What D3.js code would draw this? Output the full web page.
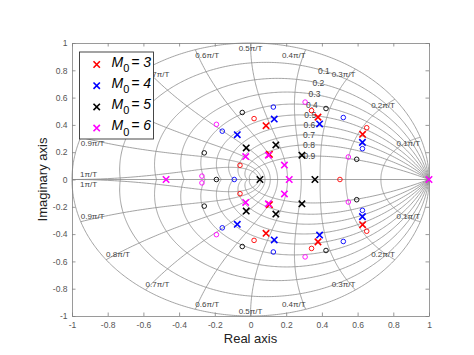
<!DOCTYPE html>
<html><head><meta charset="utf-8">
<script src="https://cdn.jsdelivr.net/npm/d3@7"></script>
<style>body{margin:0;background:#fff}svg{display:block}</style>
</head><body><svg id="c" width="474" height="355"></svg>
<script>
// ---- data ----
const xTicks = [-1, -0.8, -0.6, -0.4, -0.2, 0, 0.2, 0.4, 0.6, 0.8, 1];
const yTicks = [-1, -0.8, -0.6, -0.4, -0.2, 0, 0.2, 0.4, 0.6, 0.8, 1];
const xTickLabels = ["-1", "-0.8", "-0.6", "-0.4", "-0.2", "0", "0.2", "0.4", "0.6", "0.8", "1"];
const yTickLabels = ["-1", "-0.8", "-0.6", "-0.4", "-0.2", "0", "0.2", "0.4", "0.6", "0.8", "1"];
const zetaValues = [0, 0.1, 0.2, 0.3, 0.4, 0.5, 0.6, 0.7, 0.8, 0.9];
const zetaLabels = ["", "0.1", "0.2", "0.3", "0.4", "0.5", "0.6", "0.7", "0.8", "0.9"];
const wnValues = [0.1, 0.2, 0.3, 0.4, 0.5, 0.6, 0.7, 0.8, 0.9, 1];   // multiples of pi/T
const wnLabels = ["0.1\u03C0/T", "0.2\u03C0/T", "0.3\u03C0/T", "0.4\u03C0/T", "0.5\u03C0/T", "0.6\u03C0/T", "0.7\u03C0/T", "0.8\u03C0/T", "0.9\u03C0/T", "1\u03C0/T"];
const seriesM0 = ["3", "4", "5", "6"];

// poles (x) and zeros (o): [real, imag]
const poles3 = [[0.087, 0.394], [0.087, -0.394], [0.106, 0.184], [0.106, -0.184], [0.378, 0.457], [0.378, -0.457], [0.628, 0.331], [0.628, -0.331]];
const zeros3 = [[0.020, 0.446], [0.020, -0.446], [-0.059, 0.104], [-0.059, -0.104], [0.342, 0.505], [0.342, -0.505], [0.651, 0.379], [0.651, -0.379], [0.501, 0]];
const poles4 = [[-0.074, 0.328], [-0.074, -0.328], [0.133, 0.443], [0.133, -0.443], [0.387, 0.407], [0.387, -0.407], [0.627, 0.272], [0.627, -0.272]];
const zeros4 = [[-0.158, 0.354], [-0.158, -0.354], [0.128, 0.531], [0.128, -0.531], [0.520, 0.454], [0.520, -0.454], [0.627, 0.226], [0.627, -0.226], [-0.091, 0]];
const poles5 = [[-0.024, 0.231], [-0.024, -0.231], [0.142, 0.253], [0.142, -0.253], [0.288, 0.178], [0.288, -0.178], [0.053, 0], [0.361, 0]];
const zeros5 = [[-0.046, 0.491], [-0.046, -0.491], [-0.259, 0.195], [-0.259, -0.195], [0.423, 0.520], [0.423, -0.520], [0.595, 0.148], [0.595, -0.148], [-0.191, 0]];
const poles6 = [[-0.027, 0.168], [-0.027, -0.168], [0.100, 0.178], [0.100, -0.178], [0.190, 0.106], [0.190, -0.106], [0.217, 0], [-0.473, 0], [1.0, 0]];
const zeros6 = [[-0.191, 0.404], [-0.191, -0.404], [-0.272, 0.025], [-0.272, -0.025], [0.306, 0.567], [0.306, -0.567], [0.548, 0.165], [0.548, -0.165]];

const seriesPoles = [poles3, poles4, poles5, poles6];
const seriesZeros = [zeros3, zeros4, zeros5, zeros6];
const seriesColors = ["#ff0000", "#0000ff", "#000000", "#ff00ff"];

// ---- layout ----
const svg = d3.select("#c");
const L = 72, R = 429, T = 43, B = 316;
const x = d3.scaleLinear().domain([-1, 1]).range([L, R]);
const y = d3.scaleLinear().domain([-1, 1]).range([B, T]);
const font = "'Liberation Sans', Arial, Helvetica, sans-serif";
const gridColor = "#8c8c8c";
const labelColor = "#444";

const line = d3.line().x(d => x(d[0])).y(d => y(d[1]));
const gGrid = svg.append("g").attr("fill", "none").attr("stroke", gridColor).attr("stroke-width", 0.8);

// real axis
gGrid.append("path").attr("d", line([[-1, 0], [1, 0]]));

// constant damping spirals
zetaValues.forEach(z => {
  const m = z / Math.sqrt(1 - z * z);
  const up = d3.range(0, 301).map(i => {
    const th = Math.PI * i / 300, r = Math.exp(-m * th);
    return [r * Math.cos(th), r * Math.sin(th)];
  });
  gGrid.append("path").attr("d", line(up));
  gGrid.append("path").attr("d", line(up.map(p => [p[0], -p[1]])));
});

// constant natural frequency curves
wnValues.forEach(w => {
  const W = w * Math.PI;
  const up = d3.range(0, 201).map(i => {
    const t = (Math.PI / 2) * i / 200, r = Math.exp(-W * Math.sin(t)), a = W * Math.cos(t);
    return [r * Math.cos(a), r * Math.sin(a)];
  });
  gGrid.append("path").attr("d", line(up));
  gGrid.append("path").attr("d", line(up.map(p => [p[0], -p[1]])));
});

// zeta labels (upper half)
const gLab = svg.append("g").attr("font-family", font).attr("fill", labelColor);
const wLab = 0.35 * Math.PI;
zetaValues.forEach((z, i) => {
  if (!zetaLabels[i]) return;
  const r = Math.exp(-wLab * z), a = wLab * Math.sqrt(1 - z * z);
  gLab.append("text").attr("x", x(r * Math.cos(a))).attr("y", y(r * Math.sin(a)) + 3)
    .attr("text-anchor", "middle").attr("font-size", 8.5).text(zetaLabels[i]);
});

// wn labels
wnValues.forEach((w, i) => {
  const a = w * Math.PI, cx = Math.cos(a), sy = Math.sin(a);
  let anchor = w < 0.5 ? "end" : (w > 0.5 ? "start" : "middle");
  if (w === 1) {
    gLab.append("text").attr("x", x(-1) + 8).attr("y", y(0) - 2.5).attr("font-size", 8).text(wnLabels[i]);
    gLab.append("text").attr("x", x(-1) + 8).attr("y", y(0) + 7.8).attr("font-size", 8).text(wnLabels[i]);
    return;
  }
  gLab.append("text").attr("x", x(cx)).attr("y", y(sy) + 8.4).attr("text-anchor", anchor).attr("font-size", 8).text(wnLabels[i]);
  gLab.append("text").attr("x", x(cx)).attr("y", y(-sy) - 2.5).attr("text-anchor", anchor).attr("font-size", 8).text(wnLabels[i]);
});

// ---- axes box with inward ticks ----
const axisColor = "#808080";
const fmtX = d => xTickLabels[xTicks.indexOf(d)];
const fmtY = d => yTickLabels[yTicks.indexOf(d)];
function styleAxis(g) {
  g.selectAll("path.domain").attr("stroke", axisColor).attr("stroke-width", 0.8);
  g.selectAll(".tick line").attr("stroke", axisColor).attr("stroke-width", 0.8);
  g.selectAll(".tick text").attr("fill", "#555").attr("font-family", font).attr("font-size", 8.5);
}
svg.append("g").attr("transform", `translate(0,${B})`)
  .call(d3.axisBottom(x).tickValues(xTicks).tickFormat(fmtX).tickSizeInner(-3.5).tickSizeOuter(0).tickPadding(5.5))
  .call(styleAxis);
svg.append("g").attr("transform", `translate(0,${T})`)
  .call(d3.axisTop(x).tickValues(xTicks).tickFormat("").tickSizeInner(-3.5).tickSizeOuter(0))
  .call(styleAxis);
svg.append("g").attr("transform", `translate(${L},0)`)
  .call(d3.axisLeft(y).tickValues(yTicks).tickFormat(fmtY).tickSizeInner(-3.5).tickSizeOuter(0).tickPadding(4.5))
  .call(styleAxis);
svg.append("g").attr("transform", `translate(${R},0)`)
  .call(d3.axisRight(y).tickValues(yTicks).tickFormat("").tickSizeInner(-3.5).tickSizeOuter(0))
  .call(styleAxis);

// axis titles
svg.append("text").attr("x", (L + R) / 2).attr("y", 343).attr("text-anchor", "middle")
  .attr("font-family", font).attr("font-size", 13).attr("fill", "#222").text("Real axis");
svg.append("text").attr("transform", `translate(47,${(T + B) / 2}) rotate(-90)`).attr("text-anchor", "middle")
  .attr("font-family", font).attr("font-size", 13).attr("fill", "#222").text("Imaginary axis");

// ---- poles and zeros ----
const xPath = "M-3.2,-3.2L3.2,3.2M-3.2,3.2L3.2,-3.2";
const gPts = svg.append("g");
seriesM0.forEach((s, k) => {
  const g = gPts.append("g");
  g.selectAll("circle").data(seriesZeros[k]).join("circle")
    .attr("cx", d => x(d[0])).attr("cy", d => y(d[1])).attr("r", 2.3)
    .attr("fill", "none").attr("stroke", seriesColors[k]).attr("stroke-width", 0.9);
  g.selectAll("path").data(seriesPoles[k]).join("path")
    .attr("transform", d => `translate(${x(d[0])},${y(d[1])})`).attr("d", xPath)
    .attr("fill", "none").attr("stroke", seriesColors[k]).attr("stroke-width", 1.6);
});

// ---- legend ----
const lg = svg.append("g");
lg.append("rect").attr("x", 79.5).attr("y", 52).attr("width", 74).attr("height", 87)
  .attr("fill", "#fff").attr("stroke", "#333").attr("stroke-width", 0.9);
seriesM0.forEach((s, k) => {
  const yy = 64.5 + k * 21.2;
  lg.append("path").attr("transform", `translate(96.7,${yy})`).attr("d", xPath)
    .attr("fill", "none").attr("stroke", seriesColors[k]).attr("stroke-width", 1.6);
  const t = lg.append("text").attr("x", 111.5).attr("y", yy + 2).attr("font-family", font)
    .attr("font-size", 14).attr("font-style", "italic").attr("fill", "#000");
  t.append("tspan").text("M");
  t.append("tspan").attr("font-size", 11).attr("dy", 5.5).attr("font-style", "normal").text("0");
  t.append("tspan").attr("dy", -5.5).attr("dx", 2).text("= " + s);
});
</script>
</body></html>
